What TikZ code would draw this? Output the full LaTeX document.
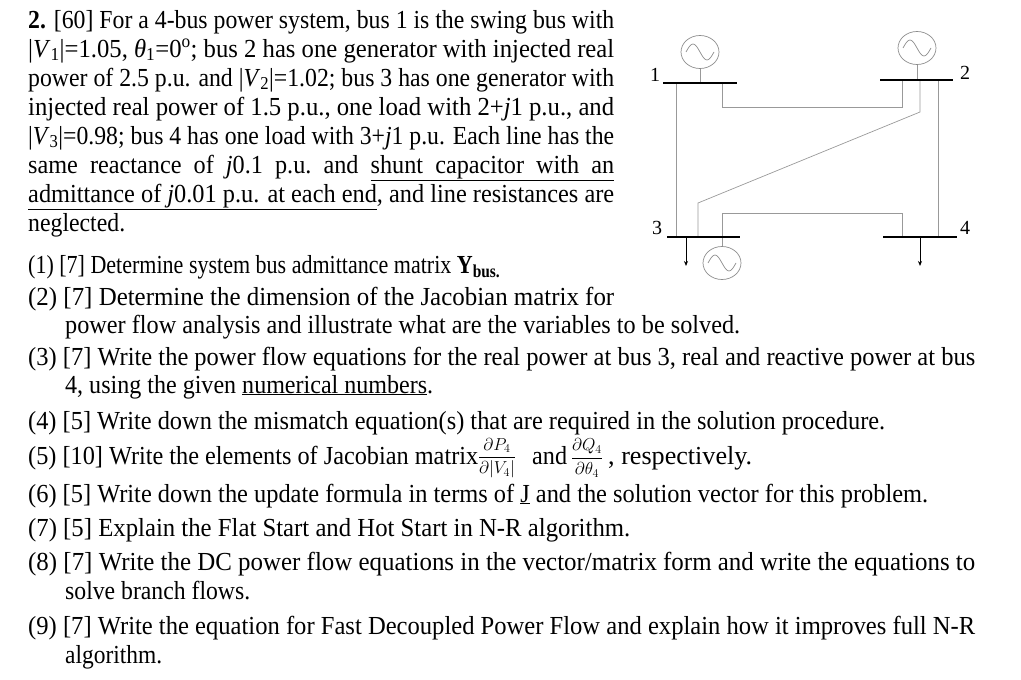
\documentclass[tikz,border=0pt]{standalone}
\usepackage{fontspec}
\setmainfont{Liberation Serif}
\usepackage{graphicx}
\usetikzlibrary{shapes.geometric,arrows.meta}
\newcommand{\tline}[4]{\node[txt] (#1) at (#2) {\resizebox{#3pt}{\height}{#4}};}
\newcommand{\Vn}[1]{|\textit{V}\textsubscript{#1}|}
\begin{document}
\begin{tikzpicture}[x=1pt,y=-1pt,
  txt/.style={anchor=base west,inner sep=0pt,font=\fontsize{26}{28}\selectfont},
  line/.style={gray!80,line width=0.7pt},
  bar/.style={black,line width=1.6pt},
  gen/.style={draw=gray!90,line width=0.7pt,ellipse,minimum width=38pt,minimum height=33pt,inner sep=0pt},
  num/.style={inner sep=0pt,font=\fontsize{20}{21}\selectfont}]
\useasboundingbox (0,0) rectangle (1021,680);
% paragraph
\tline{p1}{28,28}{586}{\textbf{2.} [60] For a 4-bus power system, bus 1 is the swing bus with}
\tline{p2}{28,57}{586}{\Vn{1}=1.05, \textit{θ}\textsubscript{1}=0\textsuperscript{o}; bus 2 has one generator with injected real}
\tline{p3}{28,86}{586}{power of 2.5 p.u. and \Vn{2}=1.02; bus 3 has one generator with}
\tline{p4}{28,115}{586}{injected real power of 1.5 p.u., one load with 2+\textit{j}1 p.u., and}
\tline{p5}{28,144}{586}{\Vn{3}=0.98; bus 4 has one load with 3+\textit{j}1 p.u. Each line has the}
\tline{p6}{28,173}{586}{same\ \ reactance\ \ of\ \ \textit{j}0.1\ \ p.u.\ \ and\ \ \underline{shunt\ \ capacitor\ \ with\ \ an}}
\tline{p7}{28,202}{586}{\underline{admittance of \textit{j}0.01 p.u. at each end}, and line resistances are}
\tline{p8}{28,231}{97}{neglected.}
% items
\tline{i1}{28,273}{472}{(1) [7] Determine system bus admittance matrix \textbf{Y}\textsubscript{\textbf{bus.}}}
\tline{i2}{28,305}{586}{(2) [7] Determine the dimension of the Jacobian matrix for}
\tline{i2b}{65,333}{675}{power flow analysis and illustrate what are the variables to be solved.}
\tline{i3}{28,365}{947}{(3) [7] Write the power flow equations for the real power at bus 3, real and reactive power at bus}
\tline{i3b}{65,393}{368}{4, using the given \underline{numerical numbers}.}
\tline{i4}{28,429}{857}{(4) [5] Write down the mismatch equation(s) that are required in the solution procedure.}
\tline{i5}{28,464}{450}{(5) [10] Write the elements of Jacobian matrix}
\node[inner sep=0pt,font=\fontsize{17}{18}\selectfont] (f1) at (497,458) {$\displaystyle\frac{\partial P_4}{\partial |V_4|}$};
\tline{and}{532,464}{35}{and}
\node[inner sep=0pt,font=\fontsize{17}{18}\selectfont] (f2) at (587,458) {$\displaystyle\frac{\partial Q_4}{\partial \theta_4}$};
\tline{i5b}{608,464}{144}{, respectively.}
\tline{i6}{28,502}{900}{(6) [5] Write down the update formula in terms of \underline{J} and the solution vector for this problem.}
\tline{i7}{28,536}{602}{(7) [5] Explain the Flat Start and Hot Start in N-R algorithm.}
\tline{i8}{28,570}{947}{(8) [7] Write the DC power flow equations in the vector/matrix form and write the equations to}
\tline{i8b}{65,599}{185}{solve branch flows.}
\tline{i9}{28,634}{947}{(9) [7] Write the equation for Fast Decoupled Power Flow and explain how it improves full N-R}
\tline{i9b}{65,663}{97}{algorithm.}
% diagram
\coordinate (b1l) at (663,83); \coordinate (b1r) at (737,83);
\coordinate (b2l) at (880,80); \coordinate (b2r) at (953,80);
\coordinate (b3l) at (667,237); \coordinate (b3r) at (740,237);
\coordinate (b4l) at (883,237); \coordinate (b4r) at (957,237);
\node[gen] (g1) at (700,52) {};
\node[gen] (g2) at (917,48) {};
\node[gen] (g3) at (722,263) {};
\foreach \g in {g1,g2,g3}
  \draw[gray!90,line width=0.7pt,shift={(\g.center)}] (-14,0) sin (-7,-8) cos (0,0) sin (7,8) cos (14,0);
\draw[line] (g1.south) -- (700,83);
\draw[line] (g2.south) -- (917,80);
\draw[line] (g3.north) -- (722,237);
\draw[line] (722,83) -- (722,107) -- (902,107) -- (902,80);
\draw[line] (920,80) -- (920,112) -- (698,203) -- (698,237);
\draw[line] (676,83) -- (676,237);
\draw[line] (938,80) -- (938,237);
\draw[line] (722,237) -- (722,213) -- (902,213) -- (902,237);
\draw[bar] (b1l) -- (b1r); \draw[bar] (b2l) -- (b2r);
\draw[bar] (b3l) -- (b3r); \draw[bar] (b4l) -- (b4r);
\draw[-{Stealth[length=5pt,width=4pt]},line width=0.9pt] (686,237) -- (686,266);
\draw[-{Stealth[length=5pt,width=4pt]},line width=0.9pt] (920,237) -- (920,266);
\node[num] (n1) at (655,75) {1};
\node[num] (n2) at (965,73) {2};
\node[num] (n3) at (657,228) {3};
\node[num] (n4) at (965,228) {4};
\end{tikzpicture}
\end{document}
